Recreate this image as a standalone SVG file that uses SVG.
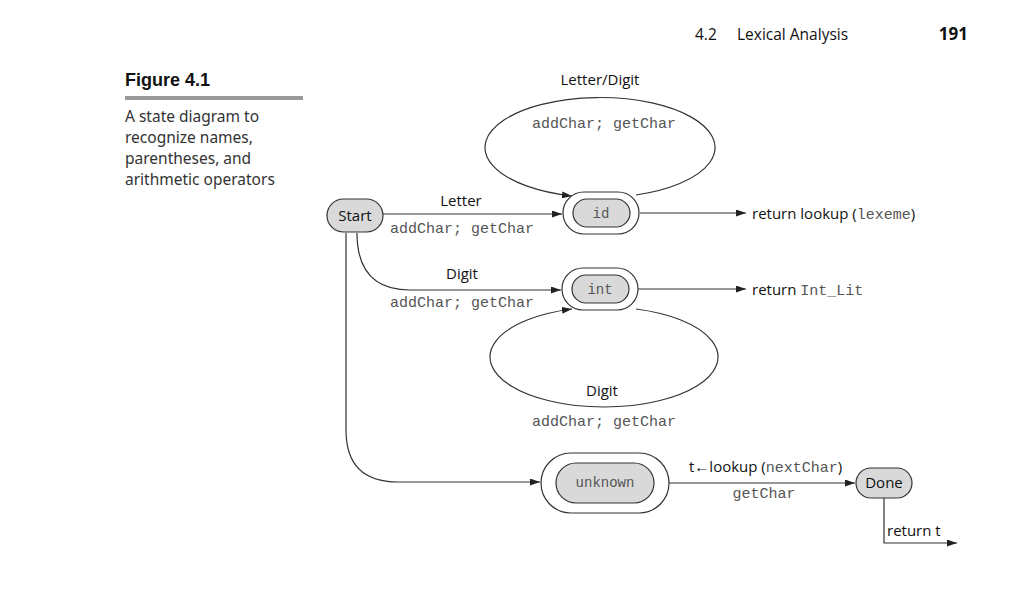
<svg xmlns="http://www.w3.org/2000/svg" width="1024" height="602" viewBox="0 0 1024 602">
<style>
.bg{fill:#ffffff}
.ln{fill:none;stroke:#333;stroke-width:1.2}
.outer{fill:#ffffff;stroke:#333;stroke-width:1.2}
.inner{fill:#d9d9d9;stroke:#333;stroke-width:1.2}
.sans{font-family:"Open Sans","Liberation Sans",sans-serif;fill:#111}
.lbl{font-family:"Open Sans","Liberation Sans",sans-serif;font-size:15px;fill:#111}
.mono{font-family:"Liberation Mono","Courier New",monospace;fill:#555}
.cap{font-family:"Noto Sans","Liberation Sans",sans-serif;font-size:15.5px;fill:#333}
</style>
<defs>
<marker id="arr" markerWidth="10" markerHeight="7" refX="10" refY="3.5" orient="auto" markerUnits="userSpaceOnUse">
<path d="M0,0 L10,3.5 L0,7 Z" fill="#222"/>
</marker>
</defs>
<rect class="bg" x="0" y="0" width="1024" height="602"/>

<g id="header">
<text class="sans" x="695" y="40" font-size="15.5">4.2</text>
<text class="sans" x="737" y="40" font-size="15.5">Lexical Analysis</text>
<text class="sans" x="968" y="40" font-size="17" font-weight="bold" text-anchor="end">191</text>
</g>

<g id="caption">
<text x="125" y="86" font-family="'Liberation Sans',Arial,sans-serif" font-size="18" font-weight="bold" fill="#111">Figure 4.1</text>
<rect x="125" y="96" width="178" height="4" fill="#999"/>
<text class="cap" x="125" y="122">A state diagram to</text>
<text class="cap" x="125" y="143">recognize names,</text>
<text class="cap" x="125" y="164">parentheses, and</text>
<text class="cap" x="125" y="185">arithmetic operators</text>
</g>

<g id="connectors">
<path class="ln" d="M383,214 L562,214" marker-end="url(#arr)"/>
<path class="ln" d="M357,233 C357,268 372,290 410,290 L561,290" marker-end="url(#arr)"/>
<path class="ln" d="M346,233 L346,430 Q346,482 398,482 L540,482" marker-end="url(#arr)"/>
<path class="ln" d="M636,195 A115,50 0 1 0 572,196" marker-end="url(#arr)"/>
<path class="ln" d="M636,309 A114,50 0 1 1 572,309" marker-end="url(#arr)"/>
<path class="ln" d="M640,213 L746,213" marker-end="url(#arr)"/>
<path class="ln" d="M638,289 L746,289" marker-end="url(#arr)"/>
<path class="ln" d="M669,483 L855,483" marker-end="url(#arr)"/>
<path class="ln" d="M884,498 L884,543 L957,543" marker-end="url(#arr)"/>
</g>

<g id="labels">
<text class="lbl" x="461" y="206" text-anchor="middle">Letter</text>
<text class="mono" x="390" y="233" font-size="15">addChar; getChar</text>
<text class="lbl" x="462" y="279" text-anchor="middle">Digit</text>
<text class="mono" x="390" y="307" font-size="15">addChar; getChar</text>
<text class="lbl" x="600" y="85" text-anchor="middle">Letter/Digit</text>
<text class="mono" x="604" y="128" font-size="15" text-anchor="middle">addChar; getChar</text>
<text class="lbl" x="602" y="396" text-anchor="middle">Digit</text>
<text class="mono" x="604" y="426" font-size="15" text-anchor="middle">addChar; getChar</text>
<text class="lbl" x="752" y="219" font-size="16">return lookup (<tspan class="mono" font-size="15">lexeme</tspan>)</text>
<text class="lbl" x="752" y="295" font-size="16">return <tspan class="mono" font-size="15">Int_Lit</tspan></text>
<text class="lbl" x="689" y="472" font-size="16">t←lookup (<tspan class="mono" font-size="15">nextChar</tspan>)</text>
<text class="mono" x="764" y="498" font-size="15" text-anchor="middle">getChar</text>
<text class="lbl" x="887" y="536">return t</text>
</g>

<g id="start">
<rect class="inner" x="327" y="199" width="56" height="33" rx="16.5"/>
<text class="lbl" x="355" y="221" text-anchor="middle">Start</text>
</g>

<g id="id">
<rect class="outer" x="563" y="192" width="76" height="42" rx="21"/>
<rect class="inner" x="573" y="199" width="57" height="28" rx="14"/>
<text class="mono" x="601" y="218" font-size="14" text-anchor="middle">id</text>
</g>

<g id="int">
<rect class="outer" x="562" y="268" width="76" height="42" rx="21"/>
<rect class="inner" x="572" y="275" width="57" height="28" rx="14"/>
<text class="mono" x="600" y="294" font-size="14" text-anchor="middle">int</text>
</g>

<g id="unknown">
<rect class="outer" x="541" y="453" width="128" height="60" rx="30"/>
<rect class="inner" x="556" y="463" width="98" height="40" rx="20"/>
<text class="mono" x="605" y="487" font-size="14" text-anchor="middle">unknown</text>
</g>

<g id="done">
<rect class="inner" x="856" y="468" width="56" height="30" rx="15"/>
<text class="lbl" x="884" y="488" text-anchor="middle">Done</text>
</g>
</svg>
